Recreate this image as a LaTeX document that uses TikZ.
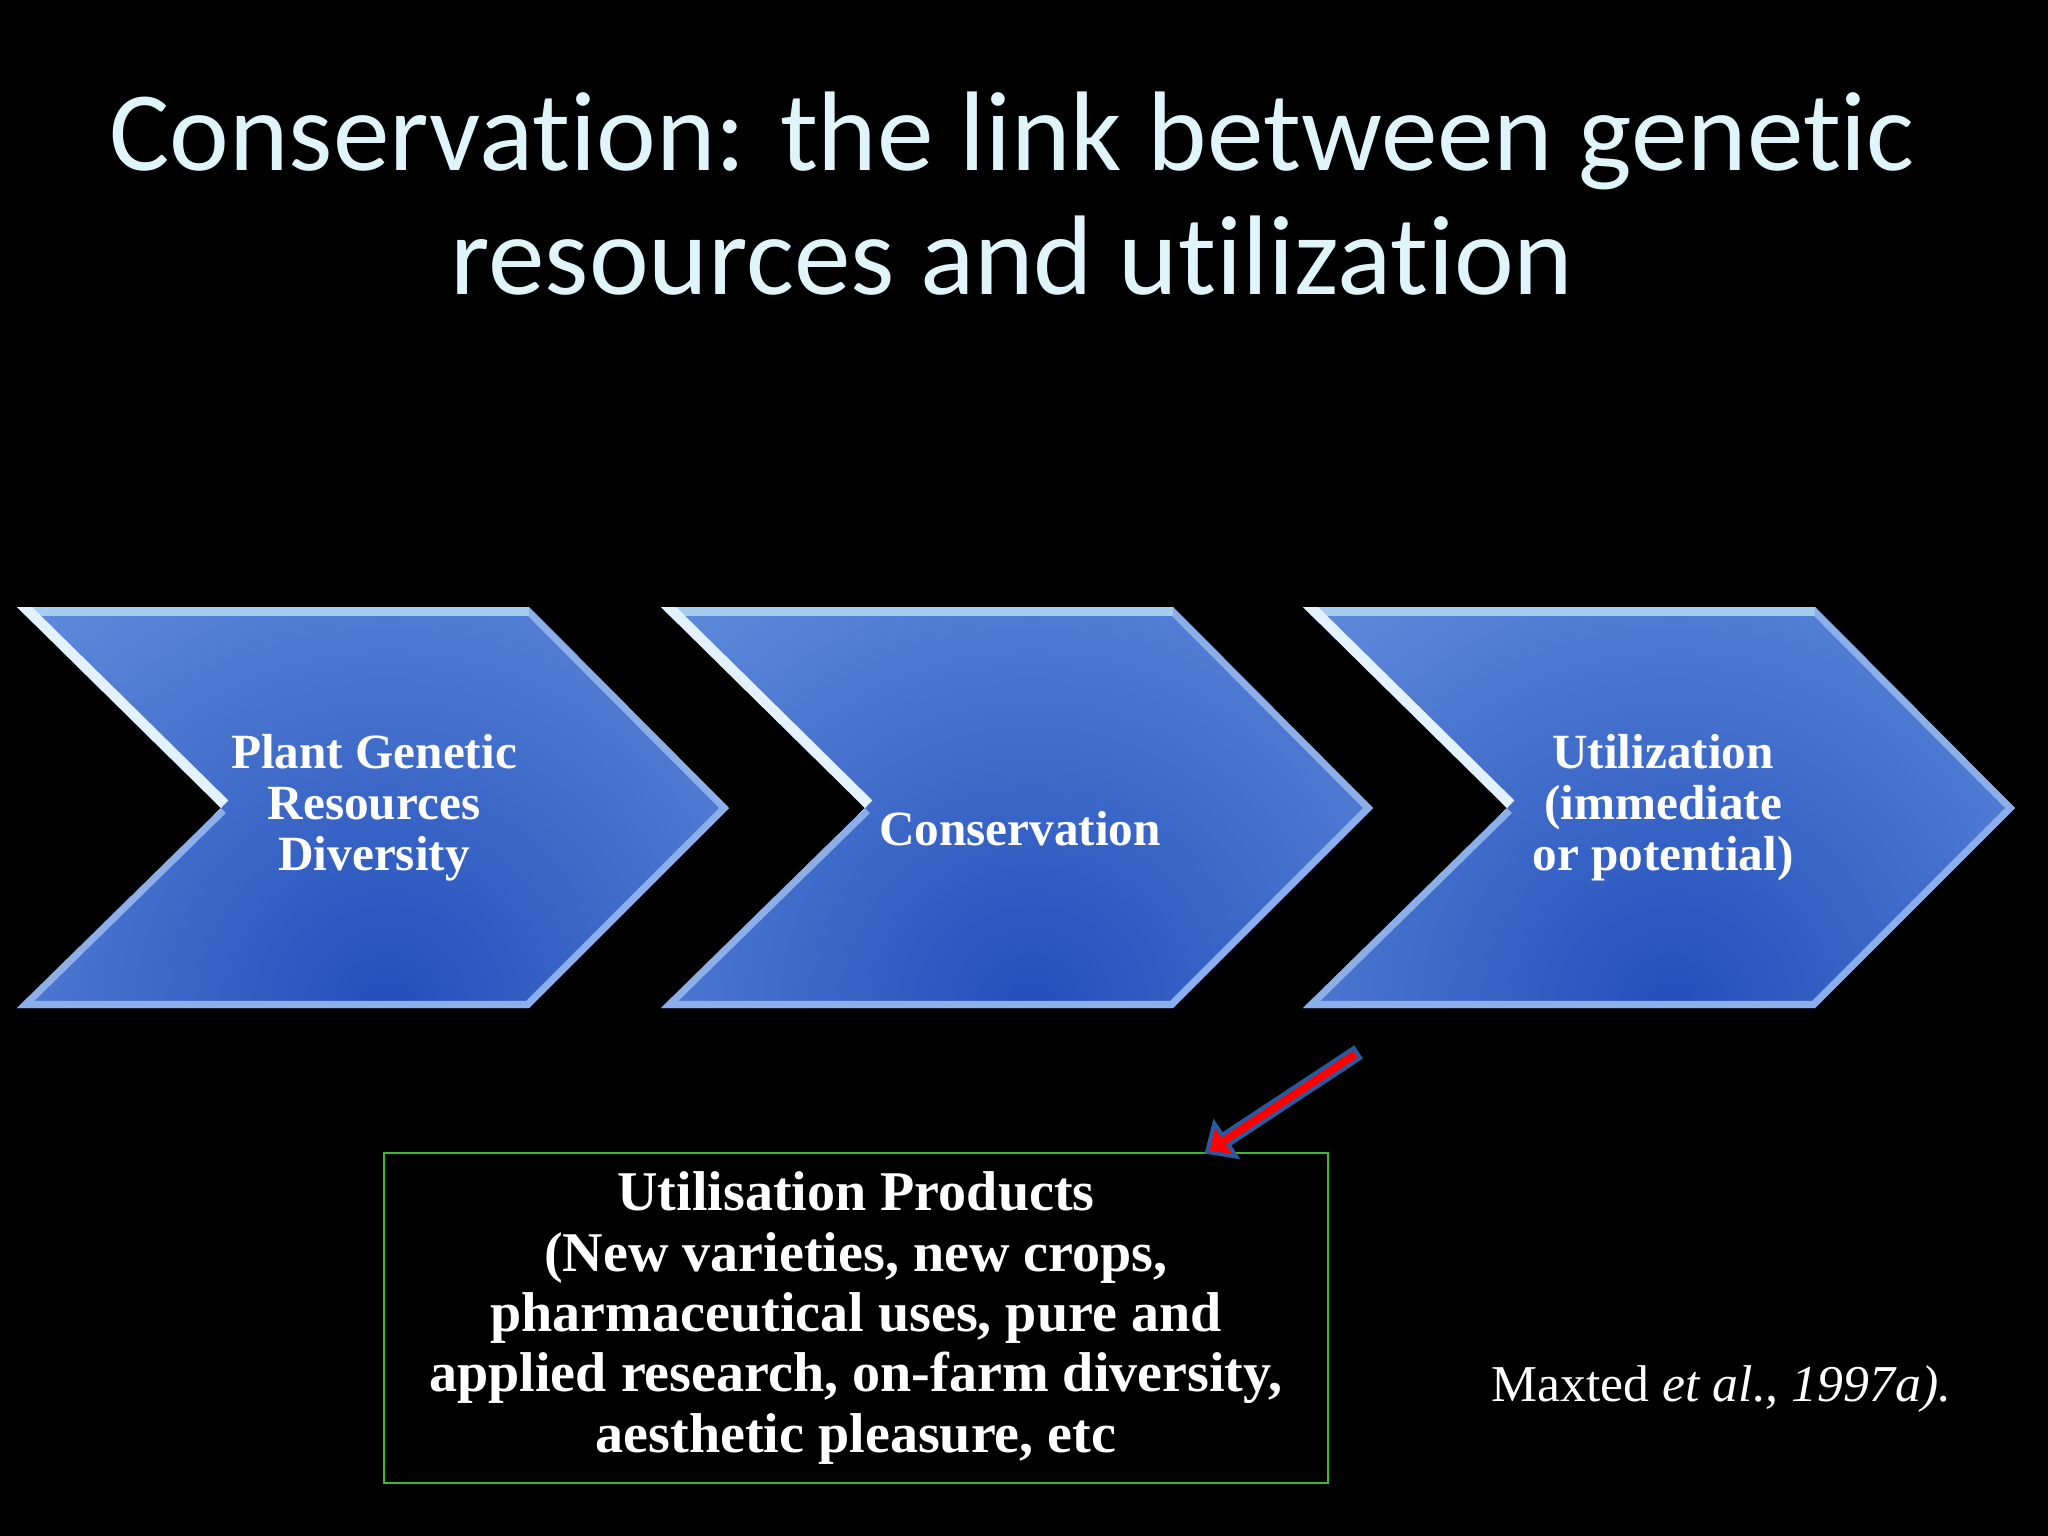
\documentclass[tikz,border=0pt]{standalone}
\usepackage{fontspec}
\setmainfont{Liberation Serif}
\newfontfamily\titlefont[Ligatures={NoCommon}]{Carlito}
\usetikzlibrary{calc}
\definecolor{titlecol}{RGB}{224,245,250}
\definecolor{chevin}{RGB}{34,78,186}
\definecolor{chevout}{RGB}{112,155,228}
\definecolor{bevelcol}{RGB}{228,242,255}
\definecolor{topedge}{RGB}{165,205,242}
\definecolor{edgecol}{RGB}{140,175,234}
\definecolor{boxgreen}{RGB}{60,185,50}
\definecolor{arrblue}{RGB}{40,90,160}
\newcommand\chevpath[1]{(#1,607) -- ++(512,0) -- ++(200,201) -- ++(-200,200) -- ++(-512,0) -- ++(204,-200) -- cycle}
\newcommand\drawchev[1]{%
  \begin{scope}
    \clip \chevpath{#1};
    \shade[inner color=chevin, outer color=chevout] (#1+370-680,1010-680) rectangle (#1+370+680,1010+680);
    \draw[edgecol, line width=4pt] (#1+512,607) -- ++(200,201) -- ++(-200,200) -- ++(-512,0) -- ++(204,-200);
    \draw[topedge, line width=5pt] (#1,607) -- ++(512,0);
    \draw[bevelcol, line width=6pt] (#1,607) -- ++(204,201);
  \end{scope}}
\tikzset{
  titlestyle/.style={text=titlecol, font=\titlefont\fontsize{32.2}{35}\selectfont, inner sep=0pt},
  chevtext/.style={text=white, font=\bfseries\fontsize{14}{14.5}\selectfont, align=center, inner sep=0pt},
  prodbox/.style={draw=boxgreen, line width=0.6pt, text=white, font=\bfseries\fontsize{15.95}{17.2}\selectfont, align=center, inner sep=0pt, minimum width=9.44cm, minimum height=3.30cm},
  citestyle/.style={text=white, font=\fontsize{14.7}{16}\selectfont, inner sep=0pt},
  blockarrow/.style={fill=red, draw=arrblue, line width=1.1pt, line join=miter}
}
\begin{document}
\begin{tikzpicture}[x=0.01cm, y=-0.01cm]
\fill[black] (0,0) rectangle (2048,1536);
\useasboundingbox (0,0) rectangle (2048,1536);

\node[titlestyle, anchor=base] (title1) at (1012,170) {Conservation: the link between genetic};
\node[titlestyle, anchor=base] (title2) at (1012,294) {resources and utilization};

\drawchev{17}
\drawchev{661}
\drawchev{1303}

\node[chevtext] (pgr) at (374,808) {Plant Genetic\\Resources\\Diversity};
\node[chevtext, anchor=base] (cons) at (1020,845) {Conservation};
\node[chevtext] (util) at (1663,808) {Utilization\\(immediate\\or potential)};

\node[prodbox] (prod) at (856,1318) {Utilisation Products\\(New varieties, new crops,\\pharmaceutical uses, pure and\\applied research, on-farm diversity,\\aesthetic pleasure, etc};

\node[citestyle, anchor=base west] (cite) at (1491,1401) {Maxted \textit{et al., 1997a).}};

\coordinate (arrtip) at (1207,1152);
\coordinate (h1) at (1236.3,1156.6);
\coordinate (s1) at (1228.6,1144.9);
\coordinate (e1) at (1360.3,1058);
\coordinate (e2) at (1353.7,1048);
\coordinate (s2) at (1222,1134.9);
\coordinate (h2) at (1214.3,1123.2);
\filldraw[blockarrow] (arrtip) -- (h1) -- (s1) -- (e1) -- (e2) -- (s2) -- (h2) -- cycle;
\end{tikzpicture}
\end{document}
